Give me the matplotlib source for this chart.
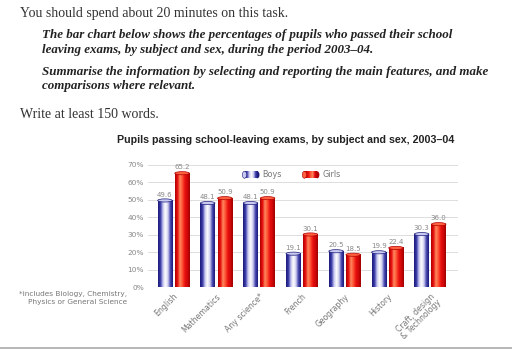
import numpy as np
import matplotlib.pyplot as plt
from matplotlib.colors import LinearSegmentedColormap
from matplotlib.patches import Ellipse

subjects = ['English', 'Mathematics', 'Any science*', 'French', 'Geography',
            'History', 'Craft, design\n& Technology']
boys = [49.6, 48.1, 48.1, 19.1, 20.5, 19.9, 30.3]
girls = [65.2, 50.9, 50.9, 30.1, 18.5, 22.4, 36.0]
yticks = [0, 10, 20, 30, 40, 50, 60, 70]

boy_cmap = LinearSegmentedColormap.from_list(
    'boy', ['#1a1a7a', '#3a3aa8', '#c8c8f0', '#ffffff', '#d0d0f0', '#4848b0', '#1a1a7a'])
girl_cmap = LinearSegmentedColormap.from_list(
    'girl', ['#b00000', '#e81010', '#ff8a60', '#ff5030', '#e81010', '#d00808', '#a00000'])

fig = plt.figure(figsize=(5.12, 3.5), dpi=100)
fig.patch.set_facecolor('white')

serif = 'Liberation Serif'
fig.text(20/512, 1 - 14/350, 'You should spend about 20 minutes on this task.',
         fontsize=10, family=serif, color='#333333', va='center')
bi = dict(fontsize=9.35, family=serif, style='italic', weight='bold', color='#222222', va='center')
fig.text(42/512, 1 - 35/350,
         'The bar chart below shows the percentages of pupils who passed their school', **bi)
fig.text(42/512, 1 - 50/350,
         'leaving exams, by subject and sex, during the period 2003\u201304.', **bi)
fig.text(42/512, 1 - 72/350,
         'Summarise the information by selecting and reporting the main features, and make', **bi)
fig.text(42/512, 1 - 86/350, 'comparisons where relevant.', **bi)
fig.text(20/512, 1 - 114/350, 'Write at least 150 words.',
         fontsize=10, family=serif, color='#333333', va='center')

fig.text(117/512, 1 - 140/350,
         'Pupils passing school-leaving exams, by subject and sex, 2003\u201304',
         fontsize=7.7, family='Liberation Sans', weight='bold', color='#222222', va='center')

fig.text(127/512, 1 - 298/350, '*includes Biology, Chemistry,\nPhysics or General Science',
         fontsize=5.3, color='#777777', ha='right', va='center', linespacing=1.25)

xl = (-0.596, 6.65)
ax = fig.add_axes([148/512, 0.18, 310/512, 0.349])
ax.set_yticks(yticks)
ax.set_yticklabels([f'{v}%' for v in yticks], fontsize=5.3, color='#888888')
ax.tick_params(axis='y', length=0, pad=3)
ax.tick_params(axis='x', length=0)
ax.grid(axis='y', color='#d8d8d8', linewidth=0.6)
ax.set_axisbelow(True)
for s in ax.spines.values():
    s.set_visible(False)

w = 0.34
grad = np.linspace(0, 1, 64).reshape(1, -1)
x = np.arange(len(subjects))
for xs, vals, cmap, cap in [(x - 0.2, boys, boy_cmap, '#c8c8f0'),
                            (x + 0.2, girls, girl_cmap, '#ff6040')]:
    for xi, v in zip(xs, vals):
        ax.imshow(grad, cmap=cmap, extent=(xi - w/2, xi + w/2, 0, v),
                  aspect='auto', zorder=2, interpolation='bilinear')
        ax.add_patch(Ellipse((xi, v), w, 1.8, facecolor=cap,
                             edgecolor=cmap(0.0), linewidth=0.5, zorder=3))
        ax.add_patch(Ellipse((xi, 0), w, 1.6, facecolor=cmap(0.3),
                             edgecolor='none', zorder=1.9))
        ax.text(xi, v + 1.6, f'{v:.1f}', ha='center', va='bottom',
                fontsize=5, color='#888888', zorder=4)

ax.set_xticks(x)
ax.set_xticklabels(subjects, rotation=45, ha='right', rotation_mode='anchor',
                   fontsize=5.6, color='#777777', linespacing=1.0)

# legend
for lx, cmap, cap, lab in [(1.81, boy_cmap, '#c8c8f0', 'Boys'),
                           (3.21, girl_cmap, '#ff6040', 'Girls')]:
    ax.imshow(grad.T[::-1].T, cmap=cmap, extent=(lx - 0.15, lx + 0.15, 62.3, 66.3),
              aspect='auto', zorder=2)
    ax.add_patch(Ellipse((lx - 0.15, 64.3), 0.1, 4, facecolor=cap,
                         edgecolor=cmap(0.0), linewidth=0.4, zorder=3))
    ax.add_patch(Ellipse((lx + 0.15, 64.3), 0.1, 4, facecolor=cmap(0.0),
                         edgecolor='none', zorder=1.9))
    ax.text(lx + 0.27, 64.3, lab, fontsize=5.8, color='#777777', va='center')

ax.set_xlim(*xl)
ax.set_ylim(0, 70)

fig.add_artist(plt.Line2D([0, 1], [1 - 348/350, 1 - 348/350], color='#aaaaaa', linewidth=1.2))

fig.savefig('out.png', dpi=100, facecolor='white')
